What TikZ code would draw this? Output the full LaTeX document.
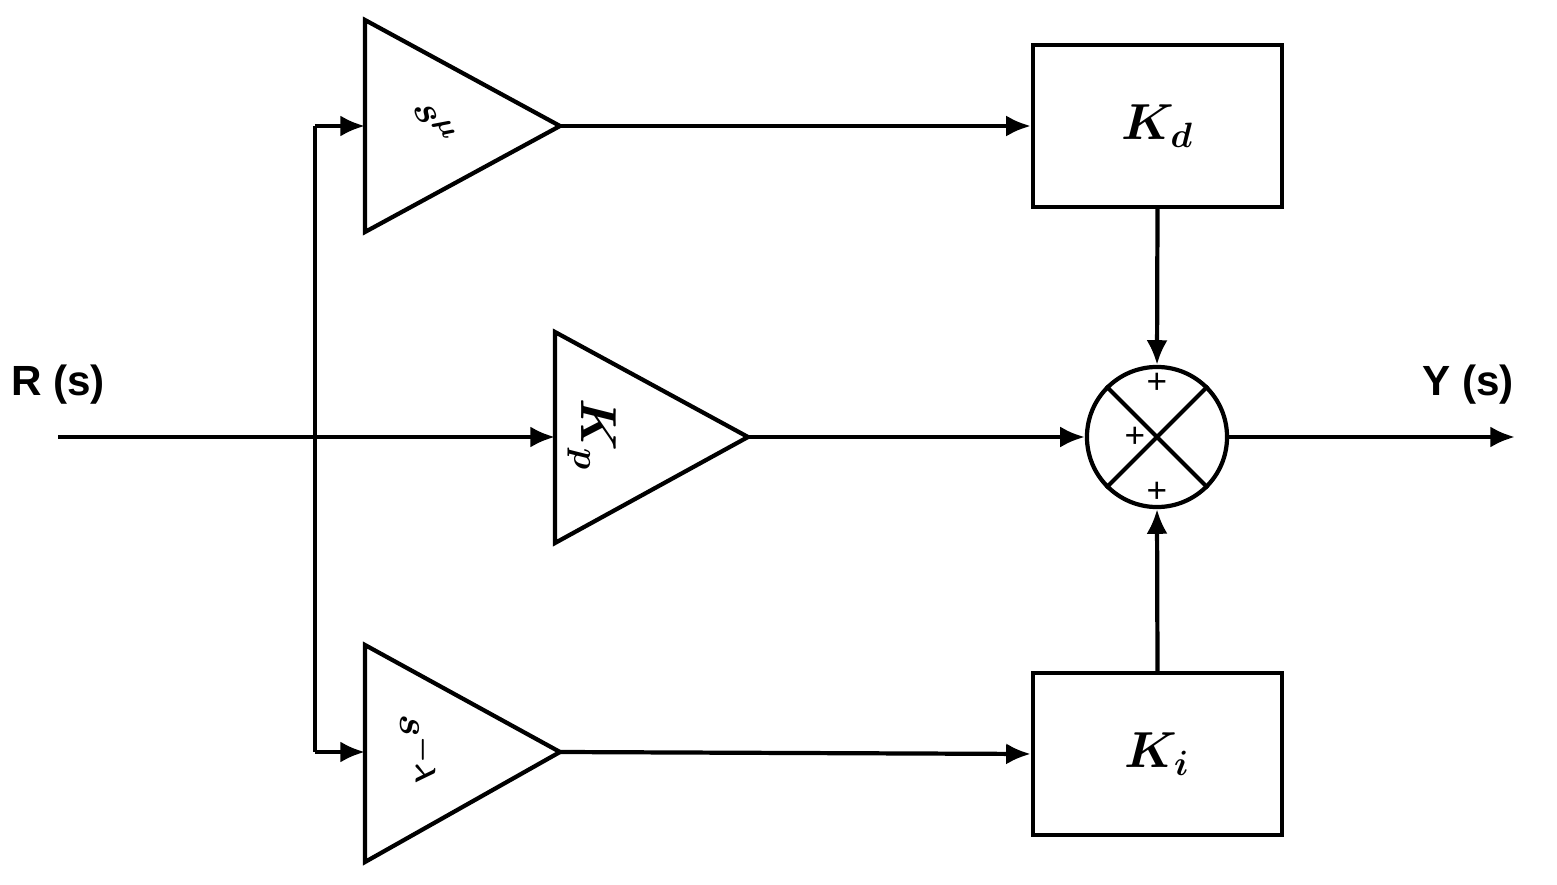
\documentclass[tikz,border=0pt]{standalone}
\usepackage{fontspec}
\setmainfont{Liberation Sans}
\usepackage{amsmath,bm}
\usetikzlibrary{arrows.meta}
\begin{document}
\begin{tikzpicture}[x=0.01cm,y=-0.01cm,line width=1.2pt,
  arr/.style={-{Latex[length=7pt,width=6pt]}},
  blk/.style={draw,minimum width=2.49cm,minimum height=1.62cm,inner sep=0pt,font=\Large},
  lbl/.style={font=\large\bfseries}]
\useasboundingbox (0,0) rectangle (1557,885);
% triangles
\draw (365,20) -- (560,126) -- (365,232) -- cycle;
\draw (555,332) -- (748,437) -- (555,543) -- cycle;
\draw (365,645) -- (560,752) -- (365,862) -- cycle;
\node[rotate=-65,font=\large] (tmu) at (435,122) {$\bm{s^{\mu}}$};
\node[rotate=-90,font=\Large] (tkp) at (592,435) {$\bm{K_p}$};
\node[rotate=-90,font=\large] (tla) at (418,750) {$\bm{s^{-\lambda}}$};
\coordinate (d1in) at (365,126); \coordinate (d1out) at (560,126);
\coordinate (d2in) at (555,437); \coordinate (d2out) at (748,437);
\coordinate (d3in) at (365,752); \coordinate (d3out) at (560,752);
% boxes
\node[blk] (kd) at (1157.5,126) {$\bm{K_d}$};
\node[blk] (ki) at (1157.5,754) {$\bm{K_i}$};
% sum
\node[draw,circle,minimum size=1.4cm,inner sep=0pt] (sum) at (1157,437) {};
\draw (sum.45) -- (sum.225) (sum.135) -- (sum.315);
\node at (1157,383) {+};
\node at (1135,437) {+};
\node at (1157,492) {+};
% inputs
\coordinate (in) at (58,437);
\coordinate (br) at (315,437);
\coordinate (brt) at (315,126);
\coordinate (brb) at (315,752);
\coordinate (out) at (1515,437);
\node[lbl] (R) at (58,385) {R (s)};
\node[lbl] (Y) at (1468,385) {Y (s)};
\draw[arr] (in) -- (d2in);
\draw (brt) -- (brb);
\draw[arr] (brt) -- (d1in);
\draw[arr] (brb) -- (d3in);
\draw[arr] (d1out) -- (kd.west);
\draw[arr] (d3out) -- (ki.west);
\draw[arr] (d2out) -- (sum.west);
\draw[arr] (kd.south) -- (sum.north);
\draw[arr] (ki.north) -- (sum.south);
\draw[arr] (sum.east) -- (out);
\end{tikzpicture}
\end{document}
